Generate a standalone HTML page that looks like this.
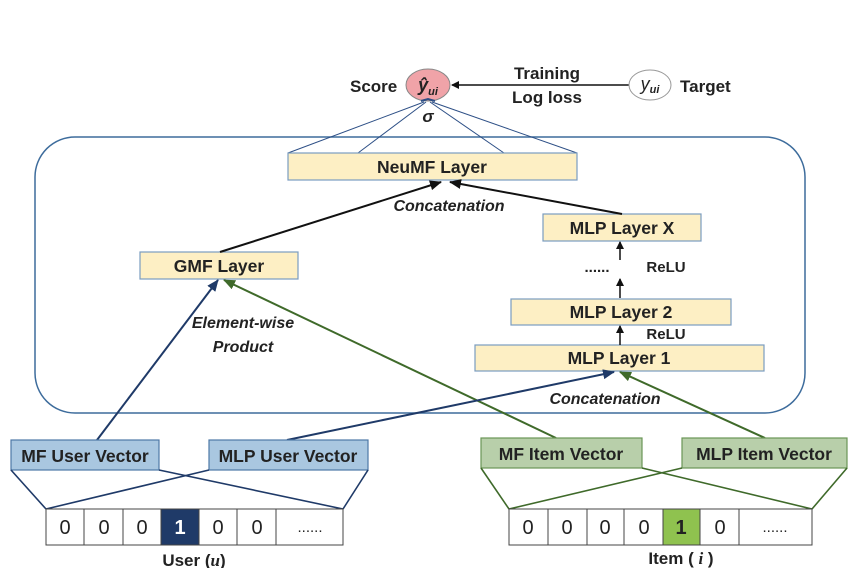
<!DOCTYPE html>
<html><head><meta charset="utf-8"><style>
body{margin:0;background:#fff}
svg{display:block}
text{font-family:"Liberation Sans",sans-serif;font-weight:bold;fill:#222}
text.n{font-weight:normal}
</style></head><body>
<svg width="850" height="568" viewBox="0 0 850 568" xmlns="http://www.w3.org/2000/svg">
<defs>
<marker id="ak" markerWidth="8" markerHeight="8" refX="7" refY="4" orient="auto" markerUnits="userSpaceOnUse"><path d="M0,0 L8,4 L0,8 z" fill="#111"/></marker>
<marker id="ab" markerWidth="12" markerHeight="10" refX="11" refY="5" orient="auto" markerUnits="userSpaceOnUse"><path d="M0,0 L12,5 L0,10 z" fill="#1f3a68"/></marker>
<marker id="ag" markerWidth="12" markerHeight="10" refX="11" refY="5" orient="auto" markerUnits="userSpaceOnUse"><path d="M0,0 L12,5 L0,10 z" fill="#3f6a2a"/></marker>
<marker id="akb" markerWidth="12" markerHeight="10" refX="11" refY="5" orient="auto" markerUnits="userSpaceOnUse"><path d="M0,0 L12,5 L0,10 z" fill="#111"/></marker>
</defs>
<rect x="35" y="137" width="770" height="276" rx="40" fill="none" stroke="#3d6c9c" stroke-width="1.5"/>
<!-- top -->
<line x1="630" y1="85" x2="452" y2="85" stroke="#111" stroke-width="1.5" marker-end="url(#ak)"/>
<ellipse cx="428" cy="85" rx="22" ry="16" fill="#f0a3a8" stroke="#888"/>
<text x="428" y="91" text-anchor="middle" font-family="Liberation Serif" font-style="italic" font-size="18">ŷ<tspan font-size="11" dy="4">ui</tspan></text>
<ellipse cx="650" cy="85" rx="21" ry="15" fill="#fff" stroke="#999"/>
<text x="650" y="90" text-anchor="middle" font-family="Liberation Serif" font-style="italic" font-size="18" class="n">y<tspan font-size="11" dy="3" style="font-weight:bold">ui</tspan></text>
<text x="350" y="92" font-size="17">Score</text>
<text x="680" y="92" font-size="17">Target</text>
<text x="547" y="79" font-size="17" text-anchor="middle">Training</text>
<text x="547" y="103" font-size="17" text-anchor="middle">Log loss</text>
<text x="428" y="122" font-size="17" text-anchor="middle" font-family="Liberation Serif" font-style="italic">σ</text>
<g stroke="#2d4f86" stroke-width="1">
<line x1="288" y1="153" x2="424" y2="102"/><line x1="358" y1="153" x2="426" y2="102"/>
<line x1="504" y1="153" x2="430" y2="102"/><line x1="577" y1="153" x2="432" y2="102"/>
</g>
<path d="M421,101 L428,99 L435,101" fill="none" stroke="#2d4f86" stroke-width="2"/>
<!-- layers -->
<g fill="#fdefc4" stroke="#7a9cc0" stroke-width="1.2">
<rect x="288" y="153" width="289" height="27"/>
<rect x="140" y="252" width="158" height="27"/>
<rect x="543" y="214" width="158" height="27"/>
<rect x="511" y="299" width="220" height="26"/>
<rect x="475" y="345" width="289" height="26"/>
</g>
<text x="432" y="173" font-size="17.5" text-anchor="middle">NeuMF Layer</text>
<text x="219" y="272" font-size="17.5" text-anchor="middle">GMF Layer</text>
<text x="622" y="234" font-size="17.5" text-anchor="middle">MLP Layer X</text>
<text x="621" y="318" font-size="17.5" text-anchor="middle">MLP Layer 2</text>
<text x="619" y="364" font-size="17.5" text-anchor="middle">MLP Layer 1</text>
<line x1="220" y1="252" x2="441" y2="182" stroke="#111" stroke-width="2" marker-end="url(#akb)"/>
<line x1="622" y1="214" x2="450" y2="182" stroke="#111" stroke-width="2" marker-end="url(#akb)"/>
<text x="449" y="211" font-size="16" text-anchor="middle" font-style="italic">Concatenation</text>
<line x1="620" y1="345" x2="620" y2="326" stroke="#111" stroke-width="1.5" marker-end="url(#ak)"/>
<line x1="620" y1="298" x2="620" y2="279" stroke="#111" stroke-width="1.5" marker-end="url(#ak)"/>
<line x1="620" y1="260" x2="620" y2="242" stroke="#111" stroke-width="1.5" marker-end="url(#ak)"/>
<text x="597" y="272" font-size="15" text-anchor="middle">......</text>
<text x="666" y="272" font-size="15" text-anchor="middle">ReLU</text>
<text x="666" y="339" font-size="15" text-anchor="middle">ReLU</text>
<text x="243" y="328" font-size="16" text-anchor="middle" font-style="italic">Element-wise</text>
<text x="243" y="352" font-size="16" text-anchor="middle" font-style="italic">Product</text>
<text x="605" y="404" font-size="16" text-anchor="middle" font-style="italic">Concatenation</text>
<!-- long connectors -->
<line x1="97" y1="440" x2="218" y2="280" stroke="#1f3a68" stroke-width="2" marker-end="url(#ab)"/>
<line x1="556" y1="438" x2="224" y2="280" stroke="#3f6a2a" stroke-width="2" marker-end="url(#ag)"/>
<line x1="287" y1="440" x2="614" y2="372" stroke="#1f3a68" stroke-width="2" marker-end="url(#ab)"/>
<line x1="765" y1="438" x2="620" y2="372" stroke="#3f6a2a" stroke-width="2" marker-end="url(#ag)"/>
<!-- vectors -->
<rect x="11" y="440" width="148" height="30" fill="#a9c7e0" stroke="#4d78a6" stroke-width="1.2"/>
<rect x="209" y="440" width="159" height="30" fill="#a9c7e0" stroke="#4d78a6" stroke-width="1.2"/>
<rect x="481" y="438" width="161" height="30" fill="#b8cfaa" stroke="#6a9656" stroke-width="1.2"/>
<rect x="682" y="438" width="165" height="30" fill="#b8cfaa" stroke="#6a9656" stroke-width="1.2"/>
<text x="85" y="462" font-size="17.5" text-anchor="middle">MF User Vector</text>
<text x="288" y="462" font-size="17.5" text-anchor="middle">MLP User Vector</text>
<text x="561" y="460" font-size="17.5" text-anchor="middle">MF Item Vector</text>
<text x="764" y="460" font-size="17.5" text-anchor="middle">MLP Item Vector</text>
<g stroke="#1f3a68" stroke-width="1.6">
<line x1="11" y1="470" x2="46" y2="509"/><line x1="159" y1="470" x2="343" y2="509"/>
<line x1="209" y1="470" x2="46" y2="509"/><line x1="368" y1="470" x2="343" y2="509"/>
</g>
<g stroke="#3f6a2a" stroke-width="1.6">
<line x1="481" y1="468" x2="509" y2="509"/><line x1="642" y1="468" x2="812" y2="509"/>
<line x1="682" y1="468" x2="509" y2="509"/><line x1="847" y1="468" x2="812" y2="509"/>
</g>
<!-- one-hot -->
<g stroke="#444" stroke-width="1" fill="#fff">
<rect x="46" y="509" width="297" height="36"/>
<rect x="161" y="509" width="38" height="36" fill="#1f3a68"/>
<line x1="84" y1="509" x2="84" y2="545"/><line x1="123" y1="509" x2="123" y2="545"/>
<line x1="237" y1="509" x2="237" y2="545"/><line x1="276" y1="509" x2="276" y2="545"/>
<rect x="509" y="509" width="303" height="36"/>
<rect x="663" y="509" width="37" height="36" fill="#8fc24f"/>
<line x1="548" y1="509" x2="548" y2="545"/><line x1="587" y1="509" x2="587" y2="545"/>
<line x1="624" y1="509" x2="624" y2="545"/><line x1="739" y1="509" x2="739" y2="545"/>
</g>
<g font-size="20" text-anchor="middle">
<text class="n" x="65" y="534">0</text><text class="n" x="104" y="534">0</text><text class="n" x="142" y="534">0</text>
<text x="180" y="534" style="fill:#fff">1</text>
<text class="n" x="218" y="534">0</text><text class="n" x="257" y="534">0</text><text class="n" x="310" y="532" font-size="15">......</text>
<text class="n" x="528" y="534">0</text><text class="n" x="567" y="534">0</text><text class="n" x="605" y="534">0</text><text class="n" x="644" y="534">0</text>
<text x="681" y="534">1</text>
<text class="n" x="720" y="534">0</text><text class="n" x="775" y="532" font-size="15">......</text>
</g>
<text x="194" y="566" font-size="17" text-anchor="middle">User (<tspan font-family="Liberation Serif" font-style="italic">u</tspan>)</text>
<text x="681" y="564" font-size="17" text-anchor="middle">Item ( <tspan font-family="Liberation Serif" font-style="italic">i</tspan> )</text>
</svg>
</body></html>
